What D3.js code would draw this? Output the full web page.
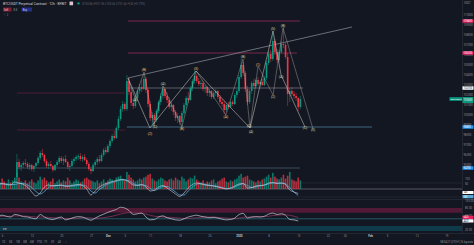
<!DOCTYPE html>
<html>
<head>
<meta charset="utf-8">
<script src="https://cdn.jsdelivr.net/npm/d3@7"></script>
<style>
  html, body { margin: 0; padding: 0; background: #131722; overflow: hidden; }
  svg { display: block; font-family: Roboto, "Liberation Sans", sans-serif; }
</style>
</head>
<body>
<script>
// BTCUSDT perpetual, 12h candles, prices in thousands of USDT
// one row per candle: [open, high, low, close]
const candles = [
  [90.8,91.3,90.4,91.0],[91.0,91.6,90.7,91.4],[91.4,91.8,90.9,91.1],[91.1,91.5,90.6,90.9],
  [90.9,91.7,90.8,91.5],[91.5,92.0,91.2,91.7],[91.7,91.9,91.0,91.2],[91.2,91.9,91.1,91.8],
  [91.8,92.4,91.5,92.2],[92.2,96.1,92.0,95.3],[95.3,95.6,94.6,94.8],[94.8,95.2,94.4,95.0],
  [95.0,95.4,94.7,95.2],[95.2,95.6,94.9,95.1],[95.1,95.3,94.6,94.8],[94.8,95.2,94.5,95.0],
  [95.0,95.1,94.4,94.6],[94.6,95.0,94.3,94.9],[94.9,95.3,94.7,95.2],[95.2,95.9,95.0,95.7],
  [95.7,96.4,95.5,96.2],[96.2,96.6,95.8,96.0],[96.0,96.1,95.2,95.4],[95.4,95.6,94.7,94.9],
  [94.9,95.3,94.6,95.1],[95.1,95.4,94.8,94.9],[94.9,95.0,94.3,94.5],[94.5,95.1,94.4,95.0],
  [95.0,95.5,94.8,95.3],[95.3,95.9,95.1,95.7],[95.7,95.9,95.2,95.4],[95.4,95.8,95.0,95.6],
  [95.6,96.0,95.2,95.3],[95.3,95.4,94.6,94.8],[94.8,95.1,94.4,94.9],[94.9,95.6,94.8,95.4],
  [95.4,95.8,95.1,95.6],[95.6,96.0,95.4,95.8],[95.8,96.1,95.5,95.9],[95.9,96.2,95.4,95.6],
  [95.6,96.0,95.3,95.8],[95.8,96.1,95.4,95.5],[95.5,95.7,94.9,95.1],[95.1,95.3,94.4,94.6],
  [94.6,94.8,94.1,94.4],[94.4,95.2,94.3,95.0],[95.0,95.5,94.8,95.3],[95.3,95.8,95.0,95.6],
  [95.6,96.0,95.2,95.4],[95.4,96.2,95.3,96.0],[96.0,96.7,95.8,96.5],[96.5,96.8,96.1,96.3],
  [96.3,97.1,96.2,96.9],[96.9,97.6,96.7,97.4],[97.4,98.1,97.2,97.9],[97.9,98.4,97.5,97.7],
  [97.7,98.9,97.6,98.7],[98.7,99.9,98.5,99.6],[99.6,100.9,99.4,100.6],[100.6,101.4,100.3,101.1],
  [101.1,101.3,100.4,100.6],[100.6,104.0,100.4,103.4],[103.4,103.7,102.0,102.3],[102.3,102.6,100.9,101.2],
  [101.2,101.5,100.6,100.9],[100.9,101.9,100.7,101.7],[101.7,102.6,101.4,102.4],[102.4,103.1,102.1,102.8],
  [102.8,103.5,102.3,102.6],[102.6,104.0,102.5,103.6],[103.6,103.8,102.2,102.5],[102.5,102.7,100.8,101.1],
  [101.1,101.4,99.4,99.7],[99.7,100.3,98.9,100.0],[100.0,100.2,99.1,99.5],[99.5,100.6,99.3,100.4],
  [100.4,101.5,100.2,101.3],[101.3,102.2,101.0,101.9],[101.9,102.9,101.6,102.6],[102.6,102.8,101.7,101.9],
  [101.9,102.3,101.2,101.5],[101.5,101.8,100.6,100.8],[100.8,101.3,100.4,101.0],[101.0,101.1,100.0,100.3],
  [100.3,100.5,99.4,99.7],[99.7,100.2,99.2,99.9],[99.9,100.0,99.0,99.3],[99.3,100.4,98.8,100.2],
  [100.2,101.2,100.0,101.0],[101.0,101.9,100.7,101.7],[101.7,102.3,101.2,101.5],[101.5,102.9,101.4,102.7],
  [102.7,103.6,102.4,103.4],[103.4,104.4,103.1,103.9],[103.9,104.1,103.2,103.4],[103.4,103.7,102.9,103.1],
  [103.1,103.5,102.6,103.2],[103.2,103.4,102.4,102.6],[102.6,103.0,102.2,102.8],[102.8,102.9,101.9,102.2],
  [102.2,102.6,101.8,102.4],[102.4,102.5,101.6,101.8],[101.8,102.4,101.6,102.2],[102.2,102.6,101.9,102.4],
  [102.4,102.5,101.6,101.8],[101.8,102.0,101.1,101.3],[101.3,101.6,100.8,101.1],[101.1,101.4,100.1,100.5],
  [100.5,101.2,100.3,101.0],[101.0,101.3,100.6,100.8],[100.8,101.4,100.7,101.3],[101.3,101.5,100.9,101.1],
  [101.1,102.2,101.0,102.0],[102.0,102.6,101.7,102.4],[102.4,104.0,102.2,103.8],[103.8,105.6,103.6,105.0],
  [105.0,105.3,103.9,104.2],[104.2,104.4,102.3,102.6],[102.6,102.9,101.0,101.3],[101.3,102.6,101.1,102.4],
  [102.4,103.4,102.1,103.2],[103.2,103.6,102.6,102.9],[102.9,103.7,102.7,103.5],[103.5,103.8,102.9,103.1],
  [103.1,103.5,102.8,103.3],[103.3,103.6,102.9,103.0],[103.0,103.9,102.9,103.7],[103.7,105.4,103.5,105.2],
  [105.2,106.4,105.0,106.1],[106.1,106.5,105.3,105.6],[105.6,108.4,105.4,107.4],[107.4,107.6,106.0,106.3],
  [106.3,106.6,105.2,105.5],[105.5,106.5,105.3,106.3],[106.3,107.4,106.1,107.1],[107.1,108.8,106.7,107.0],
  [107.0,107.2,105.6,105.8],[105.8,106.2,100.9,102.1],[102.1,102.7,101.3,102.4],[102.4,102.8,101.9,102.1],
  [102.1,102.4,101.6,101.9],[101.9,102.2,101.4,101.7],[101.7,101.8,100.4,100.8],[100.8,101.9,100.6,101.6]
];

// volume per candle (thousands)
const volumes = [
  9,7,11,8,6,10,7,9,12,
  17,12,8,7,9,6,8,10,7,6,
  9,13,10,12,9,7,8,11,6,8,
  10,7,9,8,12,9,6,8,10,9,
  7,8,11,12,10,9,8,7,9,6,
  8,10,7,9,11,10,8,12,13,14,
  11,9,18,15,12,10,8,9,11,10,
  12,13,15,16,11,9,8,10,12,11,
  9,8,10,11,9,12,10,9,13,11,
  8,10,12,11,14,10,8,7,9,6,
  8,7,9,10,6,8,9,11,12,8,
  7,9,8,10,11,14,16,12,13,14,
  10,9,8,7,9,8,10,11,13,15,
  12,17,13,11,10,12,15,11,14,18,
  10,9,8,12,9
];

// oscillator under the volume, one value per day (every 2nd candle)
const oscFast = [
  50,55,45,40,70,60,45,20,-30,-70,
  -40,20,40,30,35,40,25,30,40,45,
  35,0,-60,-20,20,45,60,75,85,95,
  90,70,40,35,45,20,-20,-10,20,35,
  10,-20,-50,-75,-40,10,45,60,50,40,
  35,30,20,10,0,10,30,50,55,10,
  15,30,35,40,60,65,55,60,45,-10,
  -30,-45
];
const oscSlow = [
  45,50,50,45,45,55,55,40,15,-25,
  -50,-25,15,35,35,35,35,30,30,38,
  40,25,-20,-40,-5,25,50,65,78,88,
  92,82,55,40,40,35,5,-15,5,25,
  25,0,-30,-60,-60,-20,20,48,55,45,
  38,32,25,15,5,5,20,40,52,35,
  15,22,32,38,50,60,60,58,52,15,
  -30,-65
];

// RSI and its moving average, one value per day
const rsiValues = [
  58,60,57,55,62,60,56,55,52,50,
  62,55,50,48,52,55,47,50,54,56,
  55,50,46,52,58,63,68,72,76,82,
  80,73,62,64,66,55,47,48,55,58,
  53,50,47,46,50,55,58,60,57,55,
  53,54,52,49,47,48,52,62,65,52,
  55,56,55,57,63,66,62,64,60,48,
  47,44
];
const rsiAverage = [
  56,57,57,57,58,58,58,57,56,55,
  55,55,54,53,52,52,51,51,51,52,
  53,53,52,51,52,53,55,57,60,63,
  66,67,67,66,65,63,60,57,56,55,
  54,54,53,52,51,51,52,53,54,55,
  55,55,54,53,52,51,51,52,54,55,
  55,55,56,56,57,59,60,61,61,60,
  57,54
];
const rsiUpperBand = [67, 80];
const rsiLowerBand = [16, 30];

// axis ticks
const priceTicks = [110,109,108,107,106,105,104,103,102,101,100,99,98,97,96,95];
const oscTicks = [100, 50];
const rsiTicks = [100, 80, 60, 20];
const timeTicks = ["2024-11-06","2024-11-13","2024-11-20","2024-11-27","2024-12-01","2024-12-05",
  "2024-12-11","2024-12-18","2024-12-25","2025-01-01","2025-01-08","2025-01-15","2025-01-22",
  "2025-01-26","2025-02-01","2025-02-05","2025-02-12","2025-02-19"];
const timeTickLabels = ["6","13","20","27","Dec","5","11","18","25","2025","8","15","22","26","Feb","5","12","19"];

// drawn horizontal levels: price, first bar, last bar
const levelPrices = [109.4, 106.2, 102.2, 98.5, 102.7, 98.8, 94.7];
const levelStart  = [61.5, 61.5, 9, 9, 61, 61, 9];
const levelEnd    = [142.8, 141.4, 60.1, 60.1, 144.3, 176.9, 142.8];

// rising trendline over the highs: [bar, price]
const trendline = [[61.5, 103.7], [167.4, 108.8]];

// elliott wave zigzags: [bar, price]
const majorWaves = [[61.5,103.7],[71.9,98.7],[93.7,104.4],[119.2,98.7],[130.1,108.4],[133.9,104.0],[145.2,98.8]];
const minorWaves = [[61.5,103.7],[64.8,101.7],[69.1,104.3],[73.8,98.9],[78.1,102.9],[87.0,98.8],[93.7,104.4],
  [107.8,100.0],[115.9,105.6],[119.2,98.7],[123.0,104.9],[130.1,102.0],[134.8,108.7],[149.0,98.6]];
const waveLabels = [
  ["(A)",64.8,101.5],["(B)",69.1,104.5],["(2)",71.9,98.1],["(C)",74.3,98.8],["(A)",78.1,103.1],
  ["(B)",87.0,98.6],["(3)",93.7,104.6],["(A)",107.8,99.8],["(B)",115.9,105.8],["(C)",118.8,98.9],
  ["(4)",119.7,98.3],["(1)",123.0,105.0],["(2)",130.1,101.8],["(5)",130.1,108.6],["(A)",133.9,103.8],
  ["(B)",134.8,108.9],["(C)",145.2,98.7],["(5)",149.0,98.5]
];

const W = 474, H = 245, plotRight = 462;
const UP = "#089981", DOWN = "#f23645";
const firstBar = Date.UTC(2024, 10, 5);
const HALF_DAY = 12 * 3600 * 1000;

let svg = null;
let x, y, yVol, yOsc, yRsi;

appendSvg("body");
setupScales();
drawLowerPanes();
drawLevels();
drawCandles();
drawVolume();
drawOscillator();
drawRsi();
drawWaves();
drawAxes();
drawAxisTags();
drawLegend();

function barTime(i) {
  return new Date(firstBar + i * HALF_DAY);
}

function appendSvg(domElement) {
  svg = d3.select(domElement).append("svg")
    .attr("width", W)
    .attr("height", H);

  svg.append("rect").attr("width", W).attr("height", H).attr("fill", "#131722");

  const defs = svg.append("defs");
  defs.append("clipPath").attr("id", "priceClip")
    .append("rect").attr("x", 0).attr("y", 0).attr("width", plotRight).attr("height", 177);
  defs.append("clipPath").attr("id", "lowerClip")
    .append("rect").attr("x", 0).attr("y", 168).attr("width", plotRight).attr("height", 66);
}

function setupScales() {
  // 12h bars, about 4.23px per day; Jan 1 sits at x=239
  x = d3.scaleUtc()
    .domain([new Date(firstBar), new Date(Date.UTC(2025, 0, 1))])
    .range([-2.1, 239]);
  y = d3.scaleLinear().domain([91.5, 111.5]).range([200, 0]);
  yVol = d3.scaleLinear().domain([0, 20]).range([189, 170]);
  yOsc = d3.scaleLinear().domain([-100, 100]).range([199, 179]);
  yRsi = d3.scaleLinear().domain([0, 100]).range([236.8, 200.8]);
}

function drawLowerPanes() {
  const g = svg.append("g");
  // oscillator level lines
  [[60, "#2a2e39", 0.6], [0, "#5d606b", 0.9], [-80, "#2a2e39", 0.6]].forEach(([v, c, w]) => {
    g.append("line").attr("x1", 0).attr("x2", plotRight)
      .attr("y1", yOsc(v)).attr("y2", yOsc(v)).attr("stroke", c).attr("stroke-width", w);
  });
  // rsi bands
  g.append("rect").attr("x", 0).attr("width", plotRight)
    .attr("y", yRsi(rsiUpperBand[1])).attr("height", yRsi(rsiUpperBand[0]) - yRsi(rsiUpperBand[1]))
    .attr("fill", "#521a37");
  g.append("rect").attr("x", 0).attr("width", plotRight)
    .attr("y", yRsi(rsiLowerBand[1])).attr("height", yRsi(rsiLowerBand[0]) - yRsi(rsiLowerBand[1]))
    .attr("fill", "#0e3a4a");
  g.append("line").attr("x1", 0).attr("x2", plotRight)
    .attr("y1", yRsi(50)).attr("y2", yRsi(50)).attr("stroke", "#2c7486").attr("stroke-width", 0.7);

  // pane separators + price scale border
  g.append("line").attr("x1", 0).attr("x2", W).attr("y1", 199.5).attr("y2", 199.5).attr("stroke", "#232734");
  g.append("line").attr("x1", 0).attr("x2", W).attr("y1", 233.5).attr("y2", 233.5).attr("stroke", "#232734");
  g.append("line").attr("x1", plotRight + 0.5).attr("x2", plotRight + 0.5).attr("y1", 0).attr("y2", 233.5).attr("stroke", "#232734");
}

function drawLevels() {
  const colors = ["#962c55", "#962c55", "#5a2039", "#5a2039", "#6f727c", "#4d7d99", "#4a5a70"];
  const g = svg.append("g").attr("clip-path", "url(#priceClip)");
  g.selectAll("line.level")
    .data(levelPrices)
    .enter().append("line")
      .attr("class", "level")
      .attr("x1", (d, i) => x(barTime(levelStart[i])))
      .attr("x2", (d, i) => x(barTime(levelEnd[i])))
      .attr("y1", d => y(d))
      .attr("y2", d => y(d))
      .attr("stroke", (d, i) => colors[i])
      .attr("stroke-width", 0.8);

  g.append("line")
    .attr("x1", x(barTime(trendline[0][0]))).attr("y1", y(trendline[0][1]))
    .attr("x2", x(barTime(trendline[1][0]))).attr("y2", y(trendline[1][1]))
    .attr("stroke", "#8f929b").attr("stroke-width", 0.7);
}

function drawCandles() {
  const g = svg.append("g").attr("clip-path", "url(#priceClip)");
  const bars = g.selectAll("g.bar").data(candles).enter().append("g").attr("class", "bar");

  bars.append("line")
    .attr("x1", (d, i) => x(barTime(i)))
    .attr("x2", (d, i) => x(barTime(i)))
    .attr("y1", d => y(d[1]))
    .attr("y2", d => y(d[2]))
    .attr("stroke", d => d[3] >= d[0] ? UP : DOWN)
    .attr("stroke-width", 0.5);

  bars.append("rect")
    .attr("x", (d, i) => x(barTime(i)) - 0.8)
    .attr("width", 1.6)
    .attr("y", d => y(Math.max(d[0], d[3])))
    .attr("height", d => Math.max(0.5, Math.abs(y(d[0]) - y(d[3]))))
    .attr("fill", d => d[3] >= d[0] ? UP : DOWN);
}

function drawVolume() {
  svg.append("g").attr("clip-path", "url(#lowerClip)")
    .selectAll("rect")
    .data(volumes)
    .enter().append("rect")
      .attr("x", (d, i) => x(barTime(i)) - 0.8)
      .attr("width", 1.6)
      .attr("y", d => yVol(d))
      .attr("height", d => yVol(0) - yVol(d))
      .attr("fill", (d, i) => candles[i][3] >= candles[i][0] ? UP : DOWN)
      .attr("opacity", 0.75);
}

function drawOscillator() {
  const line = d3.line().x((d, k) => x(barTime(2 * k))).y(d => yOsc(d)).curve(d3.curveMonotoneX);
  const g = svg.append("g").attr("clip-path", "url(#lowerClip)").attr("fill", "none");
  g.append("path").datum(oscSlow).attr("d", line).attr("stroke", "#5aa7d8").attr("stroke-width", 0.8);
  g.append("path").datum(oscFast).attr("d", line).attr("stroke", "#d1d4dc").attr("stroke-width", 0.6);
}

function drawRsi() {
  const line = d3.line().x((d, k) => x(barTime(2 * k))).y(d => yRsi(d)).curve(d3.curveMonotoneX);
  const g = svg.append("g").attr("clip-path", "url(#lowerClip)").attr("fill", "none");
  g.append("path").datum(rsiAverage).attr("d", line).attr("stroke", "#9c3560").attr("stroke-width", 0.7);
  g.append("path").datum(rsiValues).attr("d", line).attr("stroke", "#c9ccd4").attr("stroke-width", 0.7);
}

function drawWaves() {
  const line = d3.line().x(d => x(barTime(d[0]))).y(d => y(d[1]));
  const g = svg.append("g").attr("fill", "none");
  g.append("path").datum(minorWaves).attr("d", line).attr("stroke", "#c7c2b4").attr("stroke-width", 0.5).attr("opacity", 0.75);
  g.append("path").datum(majorWaves).attr("d", line).attr("stroke", "#d8d4c8").attr("stroke-width", 0.6).attr("opacity", 0.85);

  svg.append("g").selectAll("text")
    .data(waveLabels)
    .enter().append("text")
      .attr("x", d => x(barTime(d[1])))
      .attr("y", d => y(d[2]))
      .attr("dy", "0.35em")
      .attr("text-anchor", "middle")
      .attr("font-size", 3.4)
      .attr("fill", "#e4d49c")
      .text(d => d[0]);
}

function drawAxes() {
  const priceAxis = svg.append("g")
    .attr("transform", `translate(${plotRight}, 0)`)
    .call(d3.axisRight(y).tickValues(priceTicks).tickSize(0).tickPadding(1.5)
      .tickFormat(d => d3.format("d")(d * 1000)));
  const oscAxis = svg.append("g")
    .attr("transform", `translate(${plotRight}, 0)`)
    .call(d3.axisRight(yOsc).tickValues(oscTicks).tickSize(0).tickPadding(3));
  const rsiAxis = svg.append("g")
    .attr("transform", `translate(${plotRight}, 0)`)
    .call(d3.axisRight(yRsi).tickValues(rsiTicks).tickSize(0).tickPadding(3)
      .tickFormat(d3.format(".2f")));

  const parse = d3.utcParse("%Y-%m-%d");
  const timeAxis = svg.append("g")
    .attr("transform", "translate(0, 233)")
    .call(d3.axisBottom(x).tickValues(timeTicks.map(parse)).tickSize(0).tickPadding(2)
      .tickFormat((d, i) => timeTickLabels[i]));

  [priceAxis, oscAxis, rsiAxis, timeAxis].forEach(a => {
    a.attr("font-size", 2.8).attr("font-family", null);
    a.select(".domain").remove();
    a.selectAll("text").attr("fill", "#8c909b");
  });
  timeAxis.selectAll("text")
    .filter(d => d.getUTCDate() === 1)
    .attr("font-weight", "bold")
    .attr("fill", "#c4c7cf");
}

function priceTag(yPos, bg, fg, label, h) {
  svg.append("rect").attr("x", plotRight + 0.5).attr("y", yPos - h / 2)
    .attr("width", W - plotRight - 1).attr("height", h).attr("fill", bg).attr("rx", 0.4);
  svg.append("text").attr("x", plotRight + 1.5).attr("y", yPos).attr("dy", "0.35em")
    .attr("font-size", 2.6).attr("fill", fg).text(label);
}

function drawAxisTags() {
  const fmt = d => d3.format("d")(d * 1000);
  priceTag(y(levelPrices[0]), "#e91e63", "#fff", fmt(levelPrices[0]), 3.6);
  priceTag(y(levelPrices[1]), "#e91e63", "#fff", fmt(levelPrices[1]), 3.6);
  priceTag(y(levelPrices[4]), "#ffffff", "#131722", fmt(levelPrices[4]), 3.6);
  priceTag(y(levelPrices[5]), "#2196f3", "#fff", fmt(levelPrices[5]), 3.6);
  priceTag(y(levelPrices[6]), "#2196f3", "#fff", fmt(levelPrices[6]), 3.6);

  // last price with countdown + symbol tag on the left of the scale
  const last = candles[candles.length - 1][3];
  priceTag(y(last) + 1, "#089981", "#fff", fmt(last), 6);
  svg.append("rect").attr("x", 449.5).attr("y", y(last) - 1.8).attr("width", 12.5).attr("height", 3.6)
    .attr("fill", "#089981");
  svg.append("text").attr("x", 450.5).attr("y", y(last)).attr("dy", "0.35em")
    .attr("font-size", 2.2).attr("fill", "#fff").text("BTCUSDT.P");

  // indicator last values
  priceTag(yOsc(oscFast[oscFast.length - 1]) - 1, "#ffffff", "#131722", "-45", 3.2);
  priceTag(yOsc(oscSlow[oscSlow.length - 1]) + 1.2, "#5aa7d8", "#fff", "-65", 3.2);
  priceTag(yRsi(rsiAverage[rsiAverage.length - 1]), "#e91e63", "#fff", "54.0", 3.2);
  priceTag(yRsi(rsiValues[rsiValues.length - 1]), "#ffffff", "#131722", "44.0", 3.2);

  svg.append("text").attr("x", 464).attr("y", 3.6).attr("font-size", 2.6).attr("fill", "#8c909b").text("USDT");
}

function drawLegend() {
  const g = svg.append("g");
  g.append("text").attr("x", 3).attr("y", 4.6).attr("font-size", 3.4).attr("fill", "#d1d4dc")
    .text("BTCUSDT Perpetual Contract · 12h · BYBIT");
  g.append("rect").attr("x", 69.5).attr("y", 1.6).attr("width", 3.6).attr("height", 3.6)
    .attr("fill", "#d6c3d0").attr("rx", 0.5);
  g.append("circle").attr("cx", 78.5).attr("cy", 3.4).attr("r", 1.2).attr("fill", "#089981");
  const last = candles[candles.length - 1];
  g.append("text").attr("x", 82).attr("y", 4.6).attr("font-size", 2.9).attr("fill", "#5d606b")
    .text(`O${last[0]}k  H${last[1]}k  L${last[2]}k  C${last[3]}k  +0.8 (+0.79%)`);

  g.append("rect").attr("x", 3).attr("y", 7.4).attr("width", 8.5).attr("height", 4.2).attr("fill", "#7d1e37").attr("rx", 0.6);
  g.append("text").attr("x", 4).attr("y", 10.6).attr("font-size", 2.6).attr("fill", "#f0c4cf").text("Sell");
  g.append("text").attr("x", 13.5).attr("y", 10.6).attr("font-size", 2.6).attr("fill", "#b2b5be").text("0.5");
  g.append("rect").attr("x", 21.5).attr("y", 7.4).attr("width", 10.5).attr("height", 4.2).attr("fill", "#23308a").attr("rx", 0.6);
  g.append("text").attr("x", 22.8).attr("y", 10.6).attr("font-size", 2.6).attr("fill", "#c8cff5").text("Buy");
  g.append("text").attr("x", 3).attr("y", 15.6).attr("font-size", 2.6).attr("fill", "#8c909b").text("⌃ 2");

  // pane collapse arrows
  g.append("text").attr("x", 2.5).attr("y", 229.5).attr("font-size", 3.2).attr("fill", "#e0e3eb").text("▾▾");

  // range buttons + clock
  const buttons = ["1D", "5D", "1M", "3M", "6M", "YTD", "1Y", "5Y", "All", "⌂"];
  g.selectAll("text.btn").data(buttons).enter().append("text")
    .attr("class", "btn")
    .attr("x", (d, i) => 2 + i * 7)
    .attr("y", 243)
    .attr("font-size", 2.6)
    .attr("fill", "#9598a1")
    .text(d => d);
  g.append("text").attr("x", 473).attr("y", 243).attr("text-anchor", "end")
    .attr("font-size", 2.6).attr("fill", "#9598a1").text("08:04:27 (UTC+1)   %  log  auto");
}
</script>
</body>
</html>
